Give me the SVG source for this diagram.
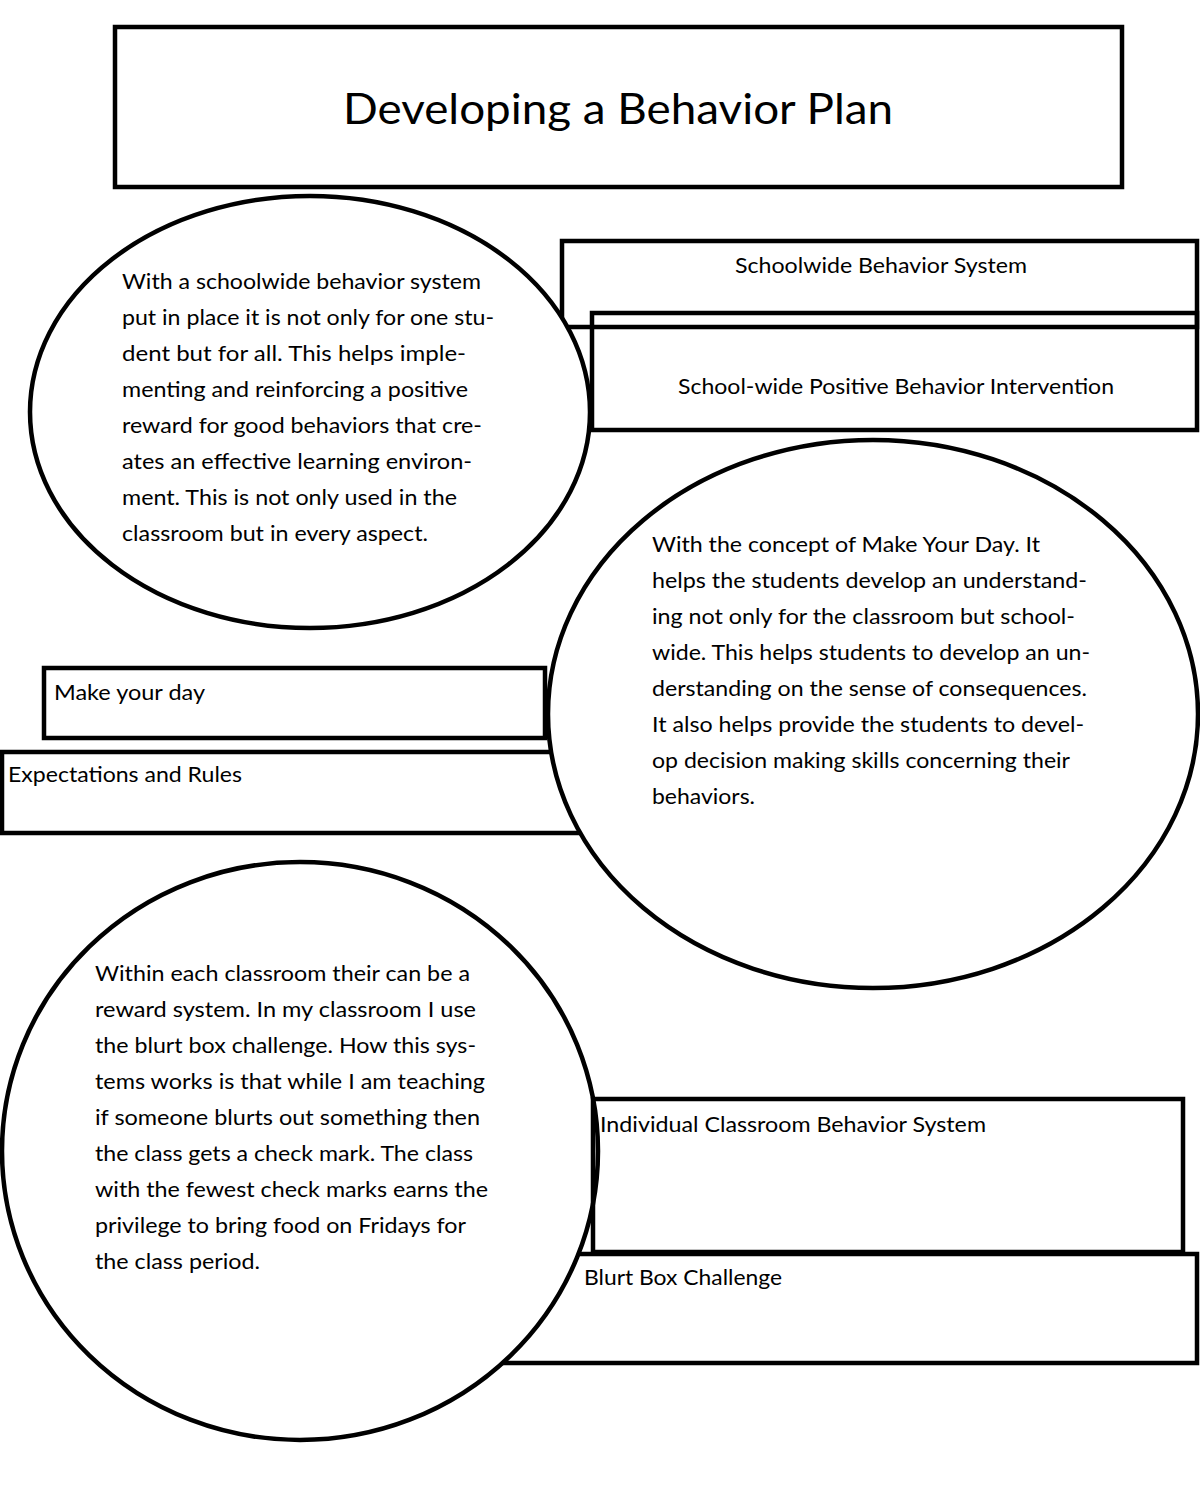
<svg xmlns="http://www.w3.org/2000/svg" width="1200" height="1500" viewBox="0 0 1200 1500">
<style>
.bx{fill:none;stroke:#000;stroke-width:4.5}
.el{fill:#fff;stroke:#000;stroke-width:4.5}
.t{font-family:Lato,"Liberation Sans",Arial,sans-serif;font-size:21px;fill:#000}
.h{font-family:Lato,"Liberation Sans",Arial,sans-serif;font-size:42px;fill:#000}
</style>
<rect width="1200" height="1500" fill="#fff"/>
<g id="title">
<rect class="bx" x="115" y="27" width="1007" height="160" stroke-width="5"/>
<text class="h" x="343" y="124" textLength="550" lengthAdjust="spacingAndGlyphs">Developing a Behavior Plan</text>
</g>
<g id="schoolwide-system">
<rect class="bx" x="562" y="241" width="635" height="86"/>
<text class="t" x="735" y="273" textLength="292" lengthAdjust="spacingAndGlyphs">Schoolwide Behavior System</text>
</g>
<g id="swpbi">
<rect class="bx" x="592" y="313" width="605" height="117"/>
<text class="t" x="678" y="394" textLength="436" lengthAdjust="spacingAndGlyphs">School-wide Positive Behavior Intervention</text>
</g>
<g id="ellipse-schoolwide">
<ellipse class="el" cx="310" cy="412" rx="280" ry="216"/>
<text class="t" x="122" y="289" textLength="359" lengthAdjust="spacingAndGlyphs">With a schoolwide behavior system</text>
<text class="t" x="122" y="325" textLength="372" lengthAdjust="spacingAndGlyphs">put in place it is not only for one stu-</text>
<text class="t" x="122" y="361" textLength="344" lengthAdjust="spacingAndGlyphs">dent but for all. This helps imple-</text>
<text class="t" x="122" y="397" textLength="346" lengthAdjust="spacingAndGlyphs">menting and reinforcing a positive</text>
<text class="t" x="122" y="433" textLength="360" lengthAdjust="spacingAndGlyphs">reward for good behaviors that cre-</text>
<text class="t" x="122" y="469" textLength="350" lengthAdjust="spacingAndGlyphs">ates an effective learning environ-</text>
<text class="t" x="122" y="505" textLength="335" lengthAdjust="spacingAndGlyphs">ment. This is not only used in the</text>
<text class="t" x="122" y="541" textLength="306" lengthAdjust="spacingAndGlyphs">classroom but in every aspect.</text>
</g>
<g id="make-your-day">
<rect class="bx" x="44" y="668" width="501" height="70"/>
<text class="t" x="54" y="700" textLength="151" lengthAdjust="spacingAndGlyphs">Make your day</text>
</g>
<g id="expectations">
<rect class="bx" x="2" y="752" width="600" height="81"/>
<text class="t" x="8" y="782" textLength="234" lengthAdjust="spacingAndGlyphs">Expectations and Rules</text>
</g>
<g id="ellipse-make-your-day">
<ellipse class="el" cx="873" cy="714" rx="325" ry="274"/>
<text class="t" x="652" y="552" textLength="388" lengthAdjust="spacingAndGlyphs">With the concept of Make Your Day. It</text>
<text class="t" x="652" y="588" textLength="435" lengthAdjust="spacingAndGlyphs">helps the students develop an understand-</text>
<text class="t" x="652" y="624" textLength="423" lengthAdjust="spacingAndGlyphs">ing not only for the classroom but school-</text>
<text class="t" x="652" y="660" textLength="438" lengthAdjust="spacingAndGlyphs">wide. This helps students to develop an un-</text>
<text class="t" x="652" y="696" textLength="435" lengthAdjust="spacingAndGlyphs">derstanding on the sense of consequences.</text>
<text class="t" x="652" y="732" textLength="432" lengthAdjust="spacingAndGlyphs">It also helps provide the students to devel-</text>
<text class="t" x="652" y="768" textLength="418" lengthAdjust="spacingAndGlyphs">op decision making skills concerning their</text>
<text class="t" x="652" y="804" textLength="103" lengthAdjust="spacingAndGlyphs">behaviors.</text>
</g>
<g id="blurt-box">
<rect class="bx" x="480" y="1254" width="717" height="109"/>
</g>
<g id="ellipse-classroom">
<ellipse class="el" cx="300" cy="1151" rx="298" ry="289"/>
<text class="t" x="95" y="981" textLength="375" lengthAdjust="spacingAndGlyphs">Within each classroom their can be a</text>
<text class="t" x="95" y="1017" textLength="381" lengthAdjust="spacingAndGlyphs">reward system. In my classroom I use</text>
<text class="t" x="95" y="1053" textLength="381" lengthAdjust="spacingAndGlyphs">the blurt box challenge. How this sys-</text>
<text class="t" x="95" y="1089" textLength="390" lengthAdjust="spacingAndGlyphs">tems works is that while I am teaching</text>
<text class="t" x="95" y="1125" textLength="385" lengthAdjust="spacingAndGlyphs">if someone blurts out something then</text>
<text class="t" x="95" y="1161" textLength="378" lengthAdjust="spacingAndGlyphs">the class gets a check mark. The class</text>
<text class="t" x="95" y="1197" textLength="393" lengthAdjust="spacingAndGlyphs">with the fewest check marks earns the</text>
<text class="t" x="95" y="1233" textLength="371" lengthAdjust="spacingAndGlyphs">privilege to bring food on Fridays for</text>
<text class="t" x="95" y="1269" textLength="165" lengthAdjust="spacingAndGlyphs">the class period.</text>
</g>
<g id="individual-classroom">
<rect class="bx" x="593" y="1099" width="590" height="153"/>
<text class="t" x="600" y="1132" textLength="386" lengthAdjust="spacingAndGlyphs">Individual Classroom Behavior System</text>
</g>
<g id="blurt-box-label">
<text class="t" x="584" y="1285" textLength="198" lengthAdjust="spacingAndGlyphs">Blurt Box Challenge</text>
</g>
<g id="connectors"/>
</svg>
